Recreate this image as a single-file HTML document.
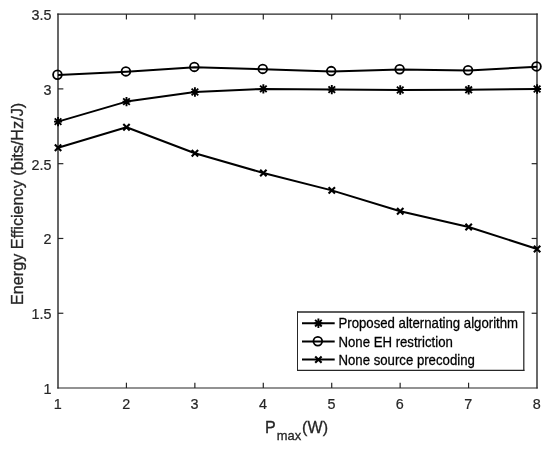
<!DOCTYPE html><html><head><meta charset="utf-8"><title>Energy Efficiency</title>
<style>html,body{margin:0;padding:0;background:#fff;}svg{display:block;font-family:"Liberation Sans",Arial,sans-serif;}</style></head><body>
<svg width="550" height="450" viewBox="0 0 550 450">
<rect width="550" height="450" fill="#fff"/>
<path d="M58.0 13.42V388.6" stroke="#262626" stroke-width="1.4"/>
<path d="M537.0 13.42V388.6" stroke="#262626" stroke-width="1.38"/>
<path d="M57.25 14.1H537.72" stroke="#262626" stroke-width="1.35"/>
<path d="M57.25 388.05H537.72" stroke="#262626" stroke-width="1.1"/>
<line x1="126.43" y1="388.05" x2="126.43" y2="382.7" stroke="#262626" stroke-width="1.2"/>
<line x1="126.43" y1="14.1" x2="126.43" y2="19.45" stroke="#262626" stroke-width="1.2"/>
<line x1="194.86" y1="388.05" x2="194.86" y2="382.7" stroke="#262626" stroke-width="1.2"/>
<line x1="194.86" y1="14.1" x2="194.86" y2="19.45" stroke="#262626" stroke-width="1.2"/>
<line x1="263.29" y1="388.05" x2="263.29" y2="382.7" stroke="#262626" stroke-width="1.2"/>
<line x1="263.29" y1="14.1" x2="263.29" y2="19.45" stroke="#262626" stroke-width="1.2"/>
<line x1="331.71" y1="388.05" x2="331.71" y2="382.7" stroke="#262626" stroke-width="1.2"/>
<line x1="331.71" y1="14.1" x2="331.71" y2="19.45" stroke="#262626" stroke-width="1.2"/>
<line x1="400.14" y1="388.05" x2="400.14" y2="382.7" stroke="#262626" stroke-width="1.2"/>
<line x1="400.14" y1="14.1" x2="400.14" y2="19.45" stroke="#262626" stroke-width="1.2"/>
<line x1="468.57" y1="388.05" x2="468.57" y2="382.7" stroke="#262626" stroke-width="1.2"/>
<line x1="468.57" y1="14.1" x2="468.57" y2="19.45" stroke="#262626" stroke-width="1.2"/>
<line x1="58.0" y1="313.26" x2="63.35" y2="313.26" stroke="#262626" stroke-width="1.2"/>
<line x1="537.0" y1="313.26" x2="531.65" y2="313.26" stroke="#262626" stroke-width="1.2"/>
<line x1="58.0" y1="238.47" x2="63.35" y2="238.47" stroke="#262626" stroke-width="1.2"/>
<line x1="537.0" y1="238.47" x2="531.65" y2="238.47" stroke="#262626" stroke-width="1.2"/>
<line x1="58.0" y1="163.68" x2="63.35" y2="163.68" stroke="#262626" stroke-width="1.2"/>
<line x1="537.0" y1="163.68" x2="531.65" y2="163.68" stroke="#262626" stroke-width="1.2"/>
<line x1="58.0" y1="88.89" x2="63.35" y2="88.89" stroke="#262626" stroke-width="1.2"/>
<line x1="537.0" y1="88.89" x2="531.65" y2="88.89" stroke="#262626" stroke-width="1.2"/>
<text transform="translate(57.70,409.15) scale(0.98,1.02)" font-size="14.67" text-anchor="middle" fill="#262626" stroke="#262626" stroke-width="0.2">1</text>
<text transform="translate(126.13,409.15) scale(0.98,1.02)" font-size="14.67" text-anchor="middle" fill="#262626" stroke="#262626" stroke-width="0.2">2</text>
<text transform="translate(194.56,409.15) scale(0.98,1.02)" font-size="14.67" text-anchor="middle" fill="#262626" stroke="#262626" stroke-width="0.2">3</text>
<text transform="translate(262.99,409.15) scale(0.98,1.02)" font-size="14.67" text-anchor="middle" fill="#262626" stroke="#262626" stroke-width="0.2">4</text>
<text transform="translate(331.41,409.15) scale(0.98,1.02)" font-size="14.67" text-anchor="middle" fill="#262626" stroke="#262626" stroke-width="0.2">5</text>
<text transform="translate(399.84,409.15) scale(0.98,1.02)" font-size="14.67" text-anchor="middle" fill="#262626" stroke="#262626" stroke-width="0.2">6</text>
<text transform="translate(468.27,409.15) scale(0.98,1.02)" font-size="14.67" text-anchor="middle" fill="#262626" stroke="#262626" stroke-width="0.2">7</text>
<text transform="translate(536.70,409.15) scale(0.98,1.02)" font-size="14.67" text-anchor="middle" fill="#262626" stroke="#262626" stroke-width="0.2">8</text>
<text transform="translate(51.4,394.00) scale(0.98,1.04)" font-size="14.67" text-anchor="end" fill="#262626" stroke="#262626" stroke-width="0.2">1</text>
<text transform="translate(51.4,319.21) scale(0.98,1.04)" font-size="14.67" text-anchor="end" fill="#262626" stroke="#262626" stroke-width="0.2">1.5</text>
<text transform="translate(51.4,244.42) scale(0.98,1.04)" font-size="14.67" text-anchor="end" fill="#262626" stroke="#262626" stroke-width="0.2">2</text>
<text transform="translate(51.4,169.63) scale(0.98,1.04)" font-size="14.67" text-anchor="end" fill="#262626" stroke="#262626" stroke-width="0.2">2.5</text>
<text transform="translate(51.4,94.84) scale(0.98,1.04)" font-size="14.67" text-anchor="end" fill="#262626" stroke="#262626" stroke-width="0.2">3</text>
<text transform="translate(51.4,20.05) scale(0.98,1.04)" font-size="14.67" text-anchor="end" fill="#262626" stroke="#262626" stroke-width="0.2">3.5</text>
<text transform="translate(265.0,432.6) scale(1,1.04)" font-size="16.1" fill="#262626" stroke="#262626" stroke-width="0.3">P<tspan dx="1.0" dy="7.1" font-size="12.9">max</tspan><tspan dx="1" dy="-6.8" font-size="16.1">(W)</tspan></text>
<text transform="translate(22.9,203.9) rotate(-90) scale(1,1.035)" font-size="16.2" text-anchor="middle" fill="#262626" stroke="#262626" stroke-width="0.3">Energy Efficiency (bits/Hz/J)</text>
<polyline points="58.05,121.60 126.49,101.60 194.92,92.00 263.36,88.90 331.79,89.60 400.23,90.00 468.66,89.80 537.10,89.00" fill="none" stroke="#000" stroke-width="2" stroke-linejoin="round"/>
<path d="M54.05 121.60H62.05M58.05 116.90V126.30M54.75 118.30L61.35 124.90M54.75 124.90L61.35 118.30" stroke="#000" stroke-width="1.9" fill="none"/>
<path d="M122.49 101.60H130.49M126.49 96.90V106.30M123.19 98.30L129.79 104.90M123.19 104.90L129.79 98.30" stroke="#000" stroke-width="1.9" fill="none"/>
<path d="M190.92 92.00H198.92M194.92 87.30V96.70M191.62 88.70L198.22 95.30M191.62 95.30L198.22 88.70" stroke="#000" stroke-width="1.9" fill="none"/>
<path d="M259.36 88.90H267.36M263.36 84.20V93.60M260.06 85.60L266.66 92.20M260.06 92.20L266.66 85.60" stroke="#000" stroke-width="1.9" fill="none"/>
<path d="M327.79 89.60H335.79M331.79 84.90V94.30M328.49 86.30L335.09 92.90M328.49 92.90L335.09 86.30" stroke="#000" stroke-width="1.9" fill="none"/>
<path d="M396.23 90.00H404.23M400.23 85.30V94.70M396.93 86.70L403.53 93.30M396.93 93.30L403.53 86.70" stroke="#000" stroke-width="1.9" fill="none"/>
<path d="M464.66 89.80H472.66M468.66 85.10V94.50M465.36 86.50L471.96 93.10M465.36 93.10L471.96 86.50" stroke="#000" stroke-width="1.9" fill="none"/>
<path d="M533.10 89.00H541.10M537.10 84.30V93.70M533.80 85.70L540.40 92.30M533.80 92.30L540.40 85.70" stroke="#000" stroke-width="1.9" fill="none"/>
<polyline points="58.05,75.10 126.49,71.70 194.92,67.20 263.36,69.20 331.79,71.40 400.23,69.60 468.66,70.50 537.10,66.70" fill="none" stroke="#000" stroke-width="2" stroke-linejoin="round"/>
<circle cx="57.45" cy="74.80" r="4.35" stroke="#000" stroke-width="1.8" fill="none"/>
<circle cx="125.89" cy="71.40" r="4.35" stroke="#000" stroke-width="1.8" fill="none"/>
<circle cx="194.32" cy="66.90" r="4.35" stroke="#000" stroke-width="1.8" fill="none"/>
<circle cx="262.76" cy="68.90" r="4.35" stroke="#000" stroke-width="1.8" fill="none"/>
<circle cx="331.19" cy="71.10" r="4.35" stroke="#000" stroke-width="1.8" fill="none"/>
<circle cx="399.63" cy="69.30" r="4.35" stroke="#000" stroke-width="1.8" fill="none"/>
<circle cx="468.06" cy="70.20" r="4.35" stroke="#000" stroke-width="1.8" fill="none"/>
<circle cx="536.50" cy="66.40" r="4.35" stroke="#000" stroke-width="1.8" fill="none"/>
<polyline points="58.05,147.70 126.49,127.30 194.92,153.20 263.36,173.00 331.79,190.40 400.23,211.20 468.66,227.00 537.10,249.00" fill="none" stroke="#000" stroke-width="2" stroke-linejoin="round"/>
<path d="M54.85 144.50L61.25 150.90M54.85 150.90L61.25 144.50" stroke="#000" stroke-width="2.1" fill="none"/>
<path d="M123.29 124.10L129.69 130.50M123.29 130.50L129.69 124.10" stroke="#000" stroke-width="2.1" fill="none"/>
<path d="M191.72 150.00L198.12 156.40M191.72 156.40L198.12 150.00" stroke="#000" stroke-width="2.1" fill="none"/>
<path d="M260.16 169.80L266.56 176.20M260.16 176.20L266.56 169.80" stroke="#000" stroke-width="2.1" fill="none"/>
<path d="M328.59 187.20L334.99 193.60M328.59 193.60L334.99 187.20" stroke="#000" stroke-width="2.1" fill="none"/>
<path d="M397.03 208.00L403.43 214.40M397.03 214.40L403.43 208.00" stroke="#000" stroke-width="2.1" fill="none"/>
<path d="M465.46 223.80L471.86 230.20M465.46 230.20L471.86 223.80" stroke="#000" stroke-width="2.1" fill="none"/>
<path d="M533.90 245.80L540.30 252.20M533.90 252.20L540.30 245.80" stroke="#000" stroke-width="2.1" fill="none"/>
<rect x="297.5" y="312.0" width="226.29999999999995" height="58.39999999999998" fill="#fff"/>
<path d="M297.5 311.4V370.9" stroke="#262626" stroke-width="1.05"/>
<path d="M523.8 311.4V370.9" stroke="#262626" stroke-width="1.25"/>
<path d="M297.0 312.0H524.4" stroke="#262626" stroke-width="1.3"/>
<path d="M297.0 370.4H524.4" stroke="#262626" stroke-width="1.1"/>
<line x1="302" y1="323.2" x2="334.7" y2="323.2" stroke="#000" stroke-width="2"/>
<path d="M314.40 323.20H322.40M318.40 318.50V327.90M315.10 319.90L321.70 326.50M315.10 326.50L321.70 319.90" stroke="#000" stroke-width="1.9" fill="none"/>
<text transform="translate(338.5,328.4) scale(1,1.05)" font-size="13.2" fill="#000" stroke="#000" stroke-width="0.25">Proposed alternating algorithm</text>
<line x1="302" y1="341.5" x2="334.7" y2="341.5" stroke="#000" stroke-width="2"/>
<circle cx="317.80" cy="341.20" r="4.35" stroke="#000" stroke-width="1.8" fill="none"/>
<text transform="translate(338.5,346.8) scale(1,1.05)" font-size="13.2" fill="#000" stroke="#000" stroke-width="0.25">None EH restriction</text>
<line x1="302" y1="359.6" x2="334.7" y2="359.6" stroke="#000" stroke-width="2"/>
<path d="M315.20 356.40L321.60 362.80M315.20 362.80L321.60 356.40" stroke="#000" stroke-width="2.1" fill="none"/>
<text transform="translate(338.5,364.9) scale(1,1.05)" font-size="13.2" fill="#000" stroke="#000" stroke-width="0.25">None source precoding</text>
</svg></body></html>
